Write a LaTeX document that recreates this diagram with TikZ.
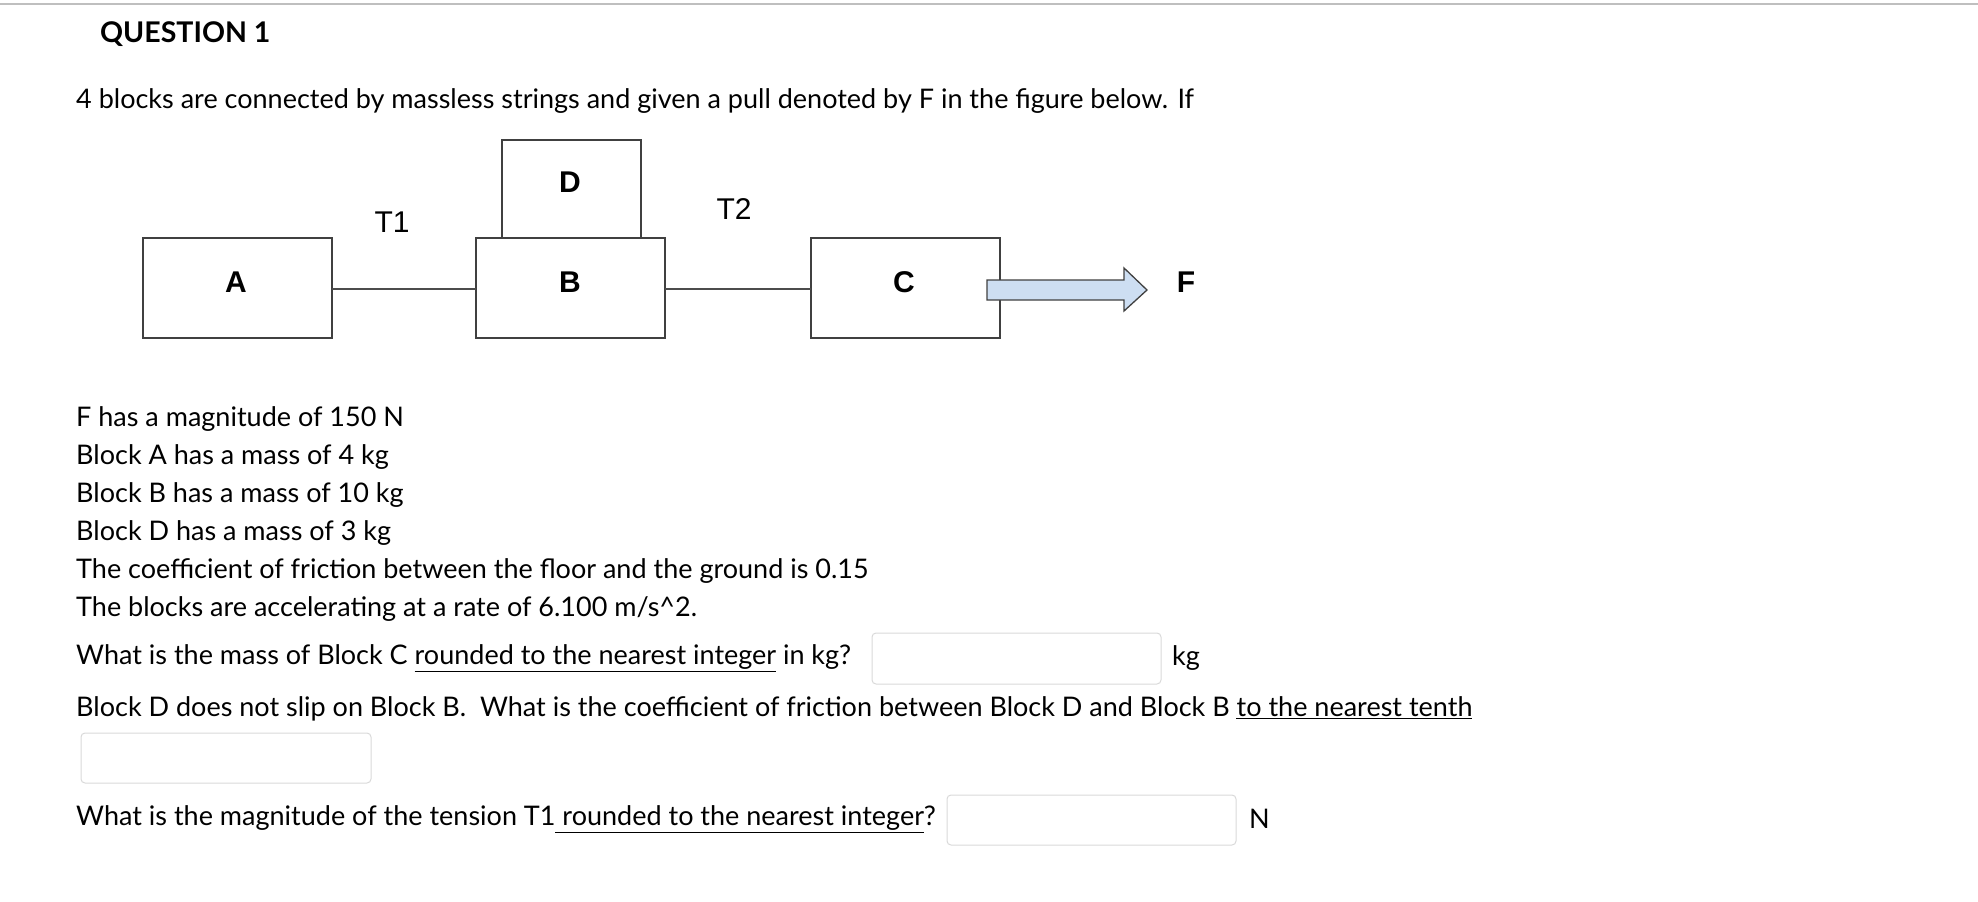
\documentclass[tikz,border=0pt]{standalone}
\usepackage{fontspec}
\setmainfont{Lato}
\newfontfamily\arialf{Liberation Sans}
\definecolor{arrowfill}{RGB}{205,222,242}
\begin{document}
\begin{tikzpicture}[x=1pt,y=-1pt,
  blk/.style={draw=black!75,line width=1.6pt},
  lbl/.style={font=\arialf\bfseries\fontsize{30}{30}\selectfont},
  tl/.style={font=\arialf\fontsize{30}{30}\selectfont},
  body/.style={anchor=west,inner sep=0pt,font=\fontsize{27}{30}\selectfont},
  ans/.style={draw=black!15,rounded corners=4pt,line width=1pt}]
\useasboundingbox (0,0) rectangle (1978,902);
\draw[black!25,line width=1.5pt] (0,4) -- (1978,4);
\node[body,font=\bfseries\fontsize{28.5}{30}\selectfont] (q) at (100,34) {QUESTION 1};
\node[body] (intro) at (76,101) {4 blocks are connected by massless strings and given a pull denoted by F in the figure below. If};
% blocks
\draw[blk] (143,238) rectangle (332,338);
\draw[blk] (476,238) rectangle (665,338);
\draw[blk] (502,140) rectangle (641,238);
\draw[blk] (811,238) rectangle (1000,338);
\node[lbl] (A) at (236,282) {A};
\node[lbl] (B) at (570,282) {B};
\node[lbl] (C) at (904,282) {C};
\node[lbl] (D) at (570,182) {D};
\coordinate (ar) at (332,289); \coordinate (bl) at (476,289);
\coordinate (br) at (665,289); \coordinate (cl) at (811,289);
\draw[black!70,line width=1.2pt] (ar) -- (bl);
\draw[black!70,line width=1.2pt] (br) -- (cl);
\node[tl] (T1) at (392,222) {T1};
\node[tl] (T2) at (734,209) {T2};
\draw[black!75,fill=arrowfill,line width=1.3pt] (987,280) -- (1124,280) -- (1124,268) -- (1147,290) -- (1124,311) -- (1124,300) -- (987,300) -- cycle;
\node[lbl] (F) at (1186,282) {F};
% text
\node[body] (l1) at (76,419) {F has a magnitude of 150 N};
\node[body] (l2) at (76,457) {Block A has a mass of 4 kg};
\node[body] (l3) at (76,495) {Block B has a mass of 10 kg};
\node[body] (l4) at (76,533) {Block D has a mass of 3 kg};
\node[body] (l5) at (76,571) {The coefficient of friction between the floor and the ground is 0.15};
\node[body] (l6) at (76,609) {The blocks are accelerating at a rate of 6.100 m/s\^{}2.};
\node[body] (q1) at (76,658) {What is the mass of Block C \underline{rounded to the nearest integer} in kg?};
\draw[ans] (872,633) rectangle (1161,684);
\node[body] (kg) at (1172,658) {kg};
\node[body] (q2) at (76,709) {Block D does not slip on Block B.\ \ What is the coefficient of friction between Block D and Block B \underline{to the nearest tenth}};
\draw[ans] (81,733) rectangle (371,783);
\node[body] (q3) at (76,819) {What is the magnitude of the tension T1\underline{ rounded to the nearest integer}?};
\draw[ans] (947,795) rectangle (1236,845);
\node[body] (N) at (1249,819) {N};
\end{tikzpicture}
\end{document}
